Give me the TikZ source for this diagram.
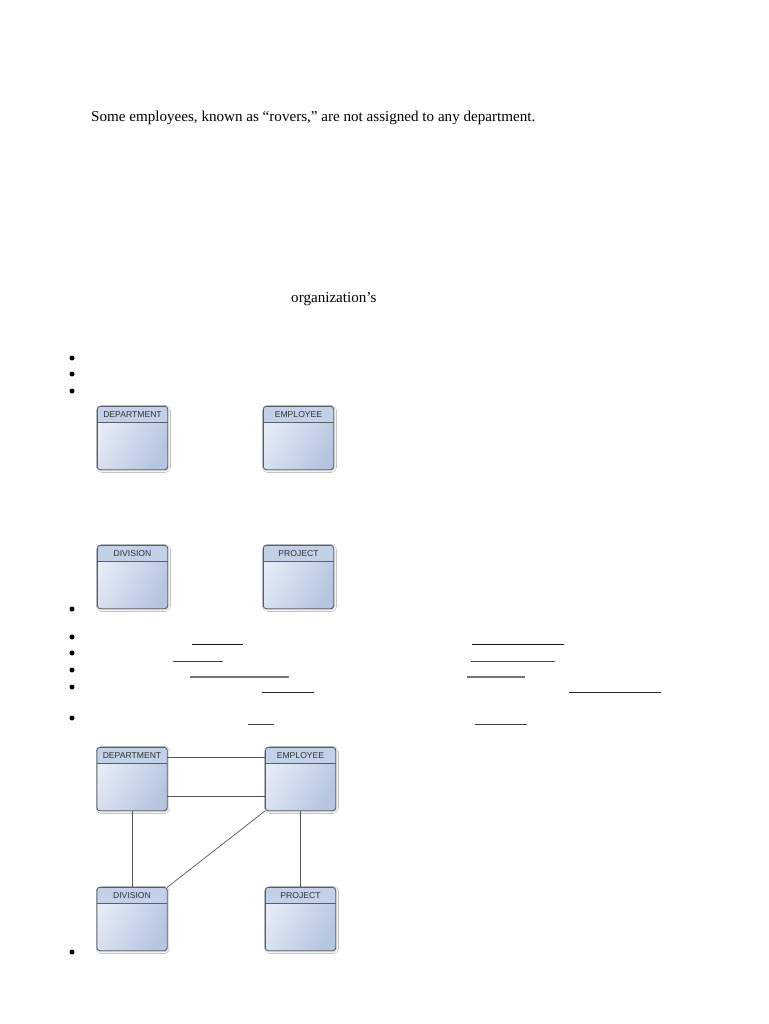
\documentclass[tikz,border=0pt]{standalone}
\usepackage{fontspec}
\setmainfont{Liberation Serif}
\newfontfamily\hdrfont{Liberation Sans}
\usetikzlibrary{shadows.blur,calc}
\definecolor{bodylight}{HTML}{E6ECF6}
\definecolor{bodydark}{HTML}{B5C5E0}
\definecolor{hdrblue}{HTML}{C2D0E8}
\definecolor{boxline}{HTML}{5A5E66}
\definecolor{conn}{HTML}{555555}
\tikzset{
  entbox/.style={rectangle, rounded corners=3pt, minimum width=#1, minimum height=63pt,
     inner sep=0pt, left color=bodylight, right color=bodydark, shading angle=60,
     blur shadow={shadow xshift=1pt, shadow yshift=-1pt, shadow blur steps=4, shadow opacity=25}},
  entbox/.default=70pt,
  bullet/.style={circle, fill=black, inner sep=0pt, minimum size=5pt},
  bodytext/.style={inner sep=0pt, anchor=base west, font=\fontsize{15.1}{18}\selectfont},
  hdrtext/.style={inner sep=0pt, font=\hdrfont\fontsize{8.6}{10}\selectfont, text=black!80},
  rel/.style={draw=conn, line width=0.9pt},
  uline/.style={line width=1pt}
}
% name, center x, center y, label, width
\newcommand{\entity}[5]{%
  \node[entbox=#5] (#1) at (#2,#3) {};
  \begin{scope}
    \clip[rounded corners=3pt] (#1.south west) rectangle (#1.north east);
    \fill[hdrblue] (#1.north west) rectangle ([yshift=-16pt]#1.north east);
  \end{scope}
  \draw[boxline, line width=0.7pt] ([yshift=-16pt]#1.north west) -- ([yshift=-16pt]#1.north east);
  \draw[boxline, line width=0.9pt, rounded corners=3pt] (#1.south west) rectangle (#1.north east);
  \node[hdrtext] (#1-t) at ([yshift=-8pt]#1.north) {#4};
}
\begin{document}
\begin{tikzpicture}[x=1pt,y=-1pt]
\useasboundingbox[fill=white] (0,0) rectangle (768,1024);

\node[bodytext] (t1) at (91,122) {Some employees, known as “rovers,” are not assigned to any department.};
\node[bodytext] (t2) at (291,302) {organization’s};

% bullets
\foreach \y [count=\i] in {358,374,391,609,637,653,670,687,718,952}
  \node[bullet] (b\i) at (72,\y) {};

% first diagram
\entity{D1}{132.5}{438}{DEPARTMENT}{70pt}
\entity{E1}{298.5}{438}{EMPLOYEE}{70pt}
\entity{V1}{132.5}{577}{DIVISION}{70pt}
\entity{P1}{298.5}{577}{PROJECT}{70pt}

% underlines
\draw[uline, black!90] (192,644) -- (243,644);
\draw[uline, black!90] (472,644) -- (564,644);
\draw[uline, black!75] (173,661) -- (223,661);
\draw[uline, black!70] (471,661) -- (555,661);
\draw[uline, black!55, line width=1.4pt] (190,677) -- (289,677);
\draw[uline, black!55, line width=1.4pt] (467,677) -- (525,677);
\draw[uline, black!85] (262,692) -- (314,692);
\draw[uline, black!85] (569,692) -- (661,692);
\draw[uline, black!75] (248,724) -- (274,724);
\draw[uline, black!75] (475,724) -- (527,724);

% second diagram
\entity{D2}{132}{779}{DEPARTMENT}{70pt}
\entity{E2}{300.5}{779}{EMPLOYEE}{70pt}
\entity{V2}{132}{919}{DIVISION}{70pt}
\entity{P2}{300.5}{919}{PROJECT}{70pt}

\draw[rel] ([yshift=22pt]D2.east) -- ([yshift=22pt]E2.west);
\draw[rel] ([yshift=-17pt]D2.east) -- ([yshift=-17pt]E2.west);
\draw[rel] (D2.south) -- (V2.north);
\draw[rel] (E2.south) -- (P2.north);
\draw[rel, line width=0.7pt] (E2.south west) -- (V2.north east);
\end{tikzpicture}
\end{document}
